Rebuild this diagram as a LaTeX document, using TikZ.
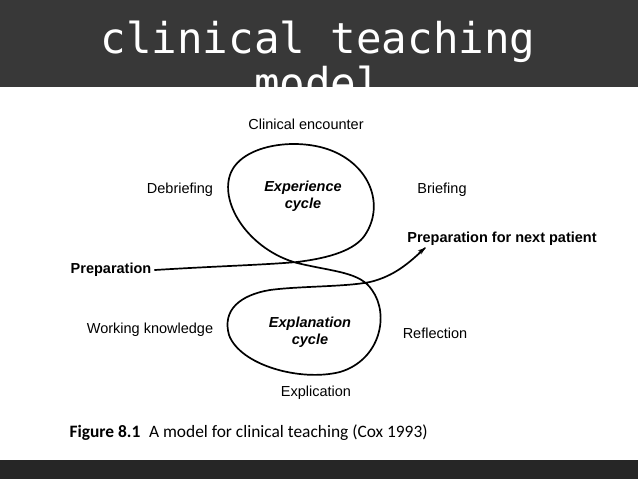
\documentclass[tikz,border=0pt]{standalone}
\usepackage{fontspec}
\usetikzlibrary{arrows.meta}
\setmainfont{Liberation Sans}
\newfontfamily\monof{DejaVu Sans Mono}
\newfontfamily\capf{Carlito}
\begin{document}
\begin{tikzpicture}[x=1pt,y=-1pt,
  lbl/.style={font=\fontsize{14.5}{17}\selectfont},
  blbl/.style={font=\fontsize{14.5}{17}\selectfont\bfseries},
  cyc/.style={font=\fontsize{14.5}{17}\selectfont\bfseries\itshape,align=center},
  curve/.style={line width=1.7pt,line cap=round}]
\fill[black!78] (0,0) rectangle (638,479);
\node[font=\monof\fontsize{42.5}{45}\selectfont,text=white,align=center] (title) at (318,60) {clinical teaching\\model};
\fill[white] (0,87) rectangle (638,460);
\node[lbl] (ce) at (306,124) {Clinical encounter};
\node[lbl] (deb) at (180,190) {Debriefing};
\node[lbl] (bri) at (442,190) {Briefing};
\node[blbl] (pnp) at (502,239) {Preparation for next patient};
\node[blbl] (prep) at (111,270) {Preparation};
\node[lbl] (wk) at (150,330) {Working knowledge};
\node[lbl] (ref) at (435,333) {Reflection};
\node[lbl] (exp) at (316,393) {Explication};
\node[cyc] (ec) at (303,196) {Experience\\cycle};
\node[cyc] (xc) at (310,332) {Explanation\\cycle};
\node[font=\capf\fontsize{17.4}{20}\selectfont,anchor=west] (cap) at (66,433) {\textbf{Figure 8.1}\enspace A model for clinical teaching (Cox 1993)};
\coordinate (tip) at (425,248);
\draw[curve] (prep.east) .. controls (220,266) and (262,265) .. (297,262)
  .. controls (330,258) and (355,250) .. (365,235)
  .. controls (385,205) and (370,165) .. (330,150)
  .. controls (295,137) and (240,145) .. (230,175)
  .. controls (220,205) and (250,250) .. (297,263)
  .. controls (335,272) and (360,272) .. (372,290)
  .. controls (390,315) and (380,360) .. (340,372)
  .. controls (300,382) and (240,365) .. (229,335)
  .. controls (222,310) and (240,295) .. (270,290)
  .. controls (300,286) and (345,287) .. (370,282)
  .. controls (395,276) and (410,262) .. (tip);
\draw[-{Stealth[length=7pt]},line width=1.7pt] (419,253) -- (tip);
\fill[black!85] (0,460) rectangle (638,479);
\end{tikzpicture}
\end{document}
